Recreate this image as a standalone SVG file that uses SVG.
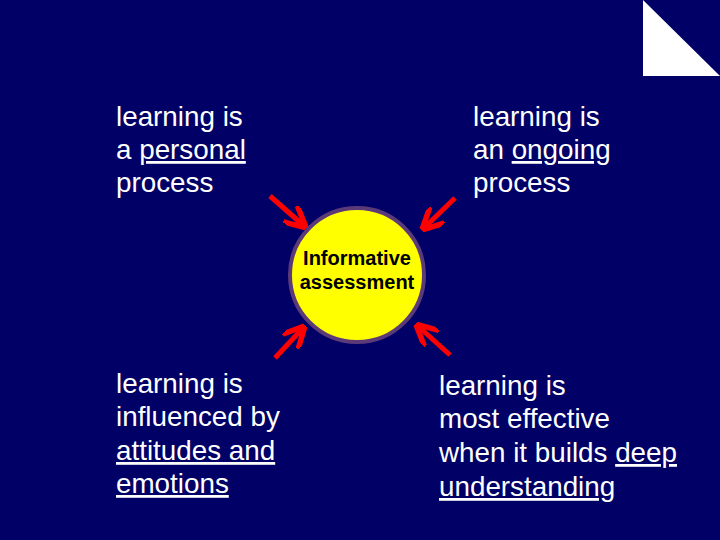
<svg xmlns="http://www.w3.org/2000/svg" width="720" height="540" viewBox="0 0 720 540">
<style>
.t{font-family:"Liberation Sans",Arial,sans-serif;font-size:27.8px;fill:#ffffff}
.u{text-decoration:underline}
.c{font-family:"Liberation Sans",Arial,sans-serif;font-size:20px;font-weight:bold;fill:#000000;text-anchor:middle}
.a{stroke:#ff0000;stroke-width:5;fill:none;marker-end:url(#ah)}
</style>
<defs>
<marker id="ah" viewBox="0 0 10 10" refX="8" refY="5" markerWidth="4.4" markerHeight="4.4" orient="auto" markerUnits="strokeWidth">
<path d="M0,0 L10,5 L0,10" fill="none" stroke="#ff0000" stroke-width="2.5"/>
</marker>
</defs>
<rect width="720" height="540" fill="#000066"/>
<polygon points="643,0 643,76 720,76" fill="#ffffff"/>
<g id="center">
<circle cx="357" cy="275" r="67" fill="#ffff00" stroke="#5c3a78" stroke-width="4"/>
<text class="c" x="357" y="265">Informative</text>
<text class="c" x="357" y="289">assessment</text>
</g>
<g id="tl">
<text class="t" x="116" y="126">learning is</text>
<text class="t" x="116" y="159">a <tspan class="u">personal</tspan></text>
<text class="t" x="116" y="192">process</text>
</g>
<g id="tr">
<text class="t" x="473" y="126">learning is</text>
<text class="t" x="473" y="159">an <tspan class="u">ongoing</tspan></text>
<text class="t" x="473" y="192">process</text>
</g>
<g id="bl">
<text class="t" x="116" y="393">learning is</text>
<text class="t" x="116" y="426">influenced by</text>
<text class="t" x="116" y="460" text-decoration="underline">attitudes and</text>
<text class="t" x="116" y="493" text-decoration="underline">emotions</text>
</g>
<g id="br">
<text class="t" x="439" y="395">learning is</text>
<text class="t" x="439" y="428">most effective</text>
<text class="t" x="439" y="462">when it builds <tspan class="u">deep</tspan></text>
<text class="t" x="439" y="496" text-decoration="underline">understanding</text>
</g>
<g id="connectors">
<line class="a" x1="270" y1="196" x2="303" y2="225"/>
<line class="a" x1="455" y1="198" x2="425" y2="227"/>
<line class="a" x1="275" y1="358" x2="302" y2="329"/>
<line class="a" x1="450" y1="355" x2="419" y2="327"/>
</g>
</svg>
